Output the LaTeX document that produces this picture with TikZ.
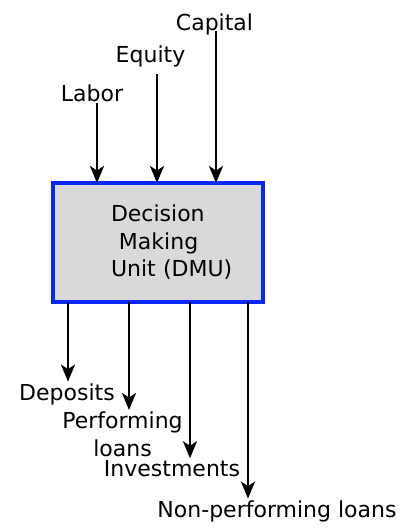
\documentclass[tikz,border=0pt]{standalone}
\usepackage{fontspec}
\setmainfont{DejaVu Sans}
\usetikzlibrary{arrows.meta}
\definecolor{dmublue}{RGB}{10,40,245}
\definecolor{dmugray}{RGB}{217,217,217}
\tikzset{
  flow/.style={line width=2.6pt,-{Stealth[length=17pt,width=14pt,inset=4.5pt]}},
  lbl/.style={inner sep=1.5pt,font=\fontsize{22}{28}\selectfont,align=center},
  dmubox/.style={draw=dmublue,line width=3.2pt,fill=dmugray,inner sep=0pt,
    minimum width=210pt,minimum height=119pt,text width=210pt,align=left,
    font=\fontsize{22}{27.5}\selectfont}
}
\begin{document}
\begin{tikzpicture}[x=1pt,y=-1pt]
  \useasboundingbox (0,0) rectangle (407,528);
% the unit
  \node[dmubox] (dmu) at (158,242.5)
    {\hspace*{58pt}Decision\\\hspace*{66pt}Making\\\hspace*{58pt}Unit (DMU)};
% points on the box
  \coordinate (i1) at (97,183);
  \coordinate (i2) at (157,183);
  \coordinate (i3) at (216,183);
  \coordinate (o1) at (68,302);
  \coordinate (o2) at (129,302);
  \coordinate (o3) at (190,302);
  \coordinate (o4) at (248,302);
% inputs
  \node[lbl,anchor=base] (labor) at (92,101) {Labor};
  \node[lbl,anchor=base] (equity) at (150.5,62) {Equity};
  \node[lbl,anchor=base] (capital) at (214.5,30.5) {Capital};
  \draw[flow] (labor.south -| i1) -- (i1);
  \draw[flow,shorten <=6pt] (equity.south -| i2) -- (i2);
  \draw[flow] (capital.base -| i3) -- (i3);
% outputs
  \node[lbl,anchor=base] (deposits) at (67,400) {Deposits};
  \node[lbl,anchor=north] (perf) at (122.5,410) {Performing\\loans};
  \node[lbl,anchor=base] (invest) at (172,476) {Investments};
  \node[lbl,anchor=base] (nonperf) at (277,517) {Non-performing loans};
  \draw[flow] (o1) -- (o1 |- deposits.north);
  \draw[flow] (o2) -- (o2 |- perf.north);
  \draw[flow] (o3) -- (o3 |- invest.north);
  \draw[flow] (o4) -- (o4 |- nonperf.north);
\end{tikzpicture}
\end{document}
